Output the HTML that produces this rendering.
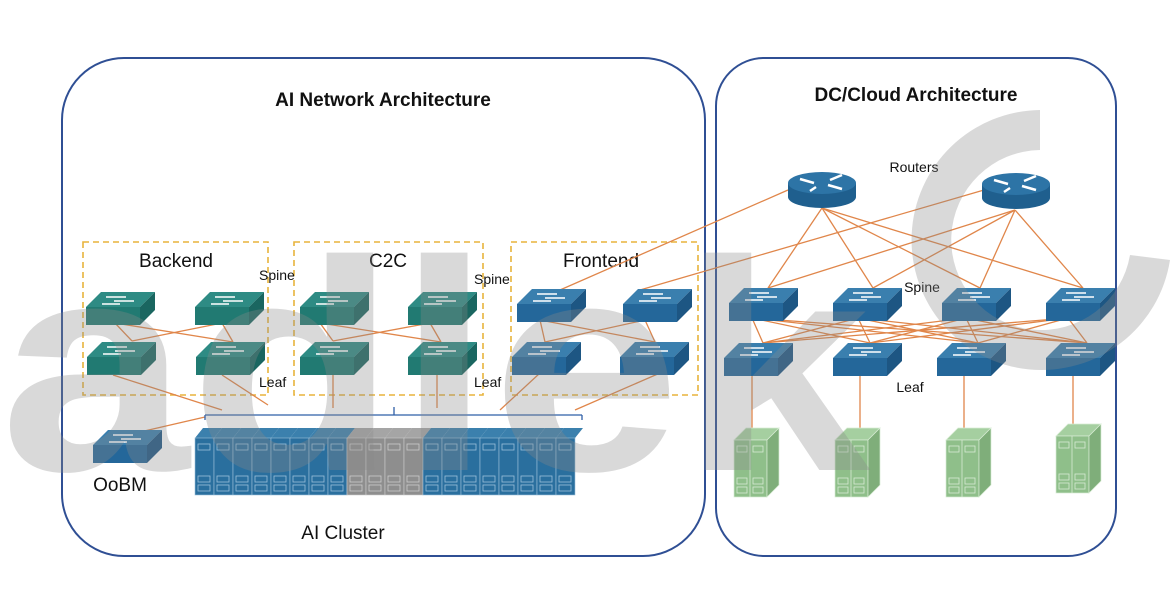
<!DOCTYPE html>
<html><head><meta charset="utf-8"><style>
html,body{margin:0;padding:0;background:#fff;width:1174px;height:596px;overflow:hidden}
text{font-family:"Liberation Sans",sans-serif;fill:#111}
</style></head><body>
<svg width="1174" height="596" viewBox="0 0 1174 596" xmlns="http://www.w3.org/2000/svg">
<defs>
<g id="sw">
 <polygon points="0,15 15,0 69,0 54,15" fill="#2e8b84"/>
 <rect x="0" y="15" width="54" height="18" fill="#217a72"/>
 <polygon points="54,15 69,0 69,18 54,33" fill="#1a6660"/>
 <g stroke="#fff" stroke-width="1.5"><line x1="20" y1="5" x2="40" y2="5"/><line x1="28" y1="9" x2="48" y2="9"/><line x1="16" y1="12" x2="34" y2="12"/></g>
</g>
<g id="swb">
 <polygon points="0,15 15,0 69,0 54,15" fill="#3a7fae"/>
 <rect x="0" y="15" width="54" height="18" fill="#24679a"/>
 <polygon points="54,15 69,0 69,18 54,33" fill="#1d5683"/>
 <g stroke="#fff" stroke-width="1.5"><line x1="20" y1="5" x2="40" y2="5"/><line x1="28" y1="9" x2="48" y2="9"/><line x1="16" y1="12" x2="34" y2="12"/></g>
</g>
<g id="srv">
 <polygon points="0,12 12,0 45,0 33,12" fill="#a5cfa0" stroke="#d8ecd4" stroke-width="0.7"/>
 <rect x="0" y="12" width="33" height="57" fill="#8fbf8a" stroke="#d8ecd4" stroke-width="0.7"/>
 <polygon points="33,12 45,0 45,57 33,69" fill="#7fae7a" stroke="#d8ecd4" stroke-width="0.7"/>
 <g fill="none" stroke="#d8ecd4" stroke-width="0.8"><line x1="16" y1="12" x2="16" y2="69"/><rect x="3" y="18" width="10" height="6"/><rect x="19" y="18" width="10" height="6"/><rect x="3" y="50" width="10" height="6"/><rect x="19" y="50" width="10" height="6"/><rect x="3" y="59" width="10" height="6"/><rect x="19" y="59" width="10" height="6"/></g>
</g>
<g id="rack">
 <polygon points="0,10 8,0 27,0 19,10" fill="#3b80ad"/>
 <rect x="0" y="10" width="19" height="57" fill="#2a6f9e" stroke="#9cc0da" stroke-width="0.6"/>
 <g fill="none" stroke="#9cc0da" stroke-width="0.8"><rect x="3" y="16" width="12" height="6"/><rect x="3" y="48" width="12" height="6"/><rect x="3" y="57" width="12" height="6"/></g>
</g>
<g id="rackg">
 <polygon points="0,10 8,0 27,0 19,10" fill="#a5a5a5"/>
 <rect x="0" y="10" width="19" height="57" fill="#8e8e8e" stroke="#ccc" stroke-width="0.6"/>
 <g fill="none" stroke="#ccc" stroke-width="0.8"><rect x="3" y="16" width="12" height="6"/><rect x="3" y="48" width="12" height="6"/><rect x="3" y="57" width="12" height="6"/></g>
</g>
<g id="rtr">
 <path d="M-34,0 v14 a34,11 0 0 0 68,0 v-14" fill="#1f5f8e"/>
 <ellipse cx="0" cy="0" rx="34" ry="11" fill="#2d74a6"/>
 <g stroke="#fff" stroke-width="2.5"><line x1="-22" y1="-4" x2="-8" y2="0"/><line x1="8" y1="-3" x2="20" y2="-8"/><line x1="-6" y1="4" x2="-12" y2="8"/><line x1="6" y1="2" x2="20" y2="6"/></g>
</g>
</defs>

<rect x="62" y="58" width="643" height="498" rx="62" fill="none" stroke="#2f4f94" stroke-width="2"/>
<rect x="716" y="58" width="400" height="498" rx="48" fill="none" stroke="#2f4f94" stroke-width="2"/>
<text x="383" y="106" font-size="19" font-weight="bold" text-anchor="middle">AI Network Architecture</text>
<text x="916" y="101" font-size="19" font-weight="bold" text-anchor="middle">DC/Cloud Architecture</text>

<g fill="none" stroke="#e8b43c" stroke-width="1.6" stroke-dasharray="6,4">
<rect x="83" y="242" width="185" height="153"/>
<rect x="294" y="242" width="189" height="153"/>
<rect x="511" y="242" width="187" height="153"/>
</g>
<text x="176" y="267" font-size="19" text-anchor="middle">Backend</text>
<text x="388" y="267" font-size="19" text-anchor="middle">C2C</text>
<text x="601" y="267" font-size="19" text-anchor="middle">Frontend</text>
<text x="259" y="280" font-size="14">Spine</text>
<text x="259" y="387" font-size="14">Leaf</text>
<text x="474" y="284" font-size="14">Spine</text>
<text x="474" y="387" font-size="14">Leaf</text>

<g stroke="#e0864a" stroke-width="1.3" fill="none">
<line x1="115" y1="323" x2="132" y2="341"/><line x1="115" y1="323" x2="233" y2="342"/>
<line x1="222" y1="323" x2="132" y2="341"/><line x1="222" y1="323" x2="233" y2="342"/>
<line x1="113" y1="375" x2="222" y2="410"/><line x1="222" y1="375" x2="268" y2="405"/>
<line x1="140" y1="432" x2="205" y2="417"/>
<line x1="320" y1="323" x2="333" y2="341"/><line x1="320" y1="323" x2="441" y2="342"/>
<line x1="430" y1="323" x2="333" y2="341"/><line x1="430" y1="323" x2="441" y2="342"/>
<line x1="333" y1="375" x2="333" y2="408"/><line x1="437" y1="375" x2="437" y2="408"/>
<line x1="540" y1="320" x2="545" y2="342"/><line x1="540" y1="320" x2="655" y2="342"/>
<line x1="645" y1="320" x2="545" y2="342"/><line x1="645" y1="320" x2="655" y2="342"/>
<line x1="540" y1="373" x2="500" y2="410"/><line x1="660" y1="373" x2="575" y2="410"/>
<line x1="560" y1="290" x2="788" y2="190"/><line x1="640" y1="290" x2="984" y2="190"/>
<line x1="822" y1="208" x2="768" y2="288"/><line x1="822" y1="208" x2="873" y2="288"/><line x1="822" y1="208" x2="980" y2="288"/><line x1="822" y1="208" x2="1083" y2="288"/>
<line x1="1015" y1="210" x2="768" y2="288"/><line x1="1015" y1="210" x2="873" y2="288"/><line x1="1015" y1="210" x2="980" y2="288"/><line x1="1015" y1="210" x2="1083" y2="288"/>
<line x1="752" y1="318" x2="763" y2="343"/><line x1="752" y1="318" x2="870" y2="343"/><line x1="752" y1="318" x2="978" y2="343"/><line x1="752" y1="318" x2="1087" y2="343"/>
<line x1="858" y1="318" x2="763" y2="343"/><line x1="858" y1="318" x2="870" y2="343"/><line x1="858" y1="318" x2="978" y2="343"/><line x1="858" y1="318" x2="1087" y2="343"/>
<line x1="966" y1="318" x2="763" y2="343"/><line x1="966" y1="318" x2="870" y2="343"/><line x1="966" y1="318" x2="978" y2="343"/><line x1="966" y1="318" x2="1087" y2="343"/>
<line x1="1068" y1="318" x2="763" y2="343"/><line x1="1068" y1="318" x2="870" y2="343"/><line x1="1068" y1="318" x2="978" y2="343"/><line x1="1068" y1="318" x2="1087" y2="343"/>
<line x1="752" y1="373" x2="752" y2="430"/><line x1="860" y1="373" x2="860" y2="430"/><line x1="964" y1="373" x2="964" y2="430"/><line x1="1073" y1="373" x2="1073" y2="426"/>
</g>

<g stroke="#2f5fa8" stroke-width="1.3" fill="none">
<line x1="205" y1="415" x2="582" y2="415"/><line x1="205" y1="415" x2="205" y2="420"/><line x1="582" y1="415" x2="582" y2="420"/><line x1="394" y1="415" x2="394" y2="407"/>
</g>

<use href="#sw" x="86" y="292"/><use href="#sw" x="195" y="292"/>
<use href="#sw" x="87" y="342"/><use href="#sw" x="196" y="342"/>
<use href="#sw" x="300" y="292"/><use href="#sw" x="408" y="292"/>
<use href="#sw" x="300" y="342"/><use href="#sw" x="408" y="342"/>
<use href="#swb" x="517" y="289"/><use href="#swb" x="623" y="289"/>
<use href="#swb" x="512" y="342"/><use href="#swb" x="620" y="342"/>
<use href="#swb" x="93" y="430"/>
<use href="#swb" x="729" y="288"/><use href="#swb" x="833" y="288"/><use href="#swb" x="942" y="288"/><use href="#swb" x="1046" y="288"/>
<use href="#swb" x="724" y="343"/><use href="#swb" x="833" y="343"/><use href="#swb" x="937" y="343"/><use href="#swb" x="1046" y="343"/>
<use href="#rtr" x="822" y="183"/><use href="#rtr" x="1016" y="184"/>

<use href="#rack" x="195" y="428"/><use href="#rack" x="214" y="428"/><use href="#rack" x="233" y="428"/><use href="#rack" x="252" y="428"/><use href="#rack" x="271" y="428"/><use href="#rack" x="290" y="428"/><use href="#rack" x="309" y="428"/><use href="#rack" x="328" y="428"/>
<use href="#rackg" x="347" y="428"/><use href="#rackg" x="366" y="428"/><use href="#rackg" x="385" y="428"/><use href="#rackg" x="404" y="428"/>
<use href="#rack" x="423" y="428"/><use href="#rack" x="442" y="428"/><use href="#rack" x="461" y="428"/><use href="#rack" x="480" y="428"/><use href="#rack" x="499" y="428"/><use href="#rack" x="518" y="428"/><use href="#rack" x="537" y="428"/><use href="#rack" x="556" y="428"/>

<use href="#srv" x="734" y="428"/><use href="#srv" x="835" y="428"/><use href="#srv" x="946" y="428"/><use href="#srv" x="1056" y="424"/>

<text x="120" y="491" font-size="19" text-anchor="middle">OoBM</text>
<text x="343" y="539" font-size="19" text-anchor="middle">AI Cluster</text>
<text x="914" y="172" font-size="14" text-anchor="middle">Routers</text>
<text x="922" y="292" font-size="14" text-anchor="middle">Spine</text>
<text x="910" y="392" font-size="14" text-anchor="middle">Leaf</text>

<g opacity="0.32" fill="#8a8a8a">
<text x="0" y="470" font-size="300" font-weight="bold" textLength="870" lengthAdjust="spacingAndGlyphs" style="fill:#8a8a8a">adlek</text>
<path d="M1040,110 a130,130 0 1 0 130,150 l-40,-5 a90,90 0 1 1 -90,-105 z"/>
</g>
</svg>
</body></html>
